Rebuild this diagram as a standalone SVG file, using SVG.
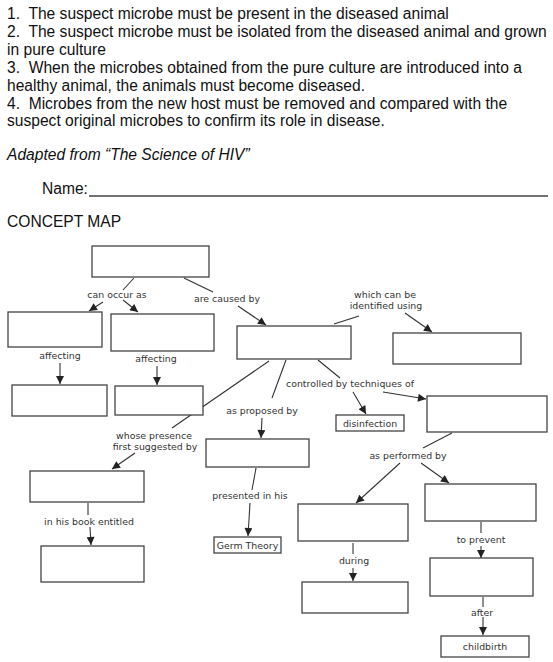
<svg xmlns="http://www.w3.org/2000/svg" width="553" height="662" viewBox="0 0 553 662">
<style>
.t{font-family:"Liberation Sans",Arial,sans-serif;font-size:15.6px;fill:#111;white-space:pre}
.i{font-style:italic}
.l{font-family:"DejaVu Sans",Verdana,sans-serif;font-size:9.4px;fill:#333;text-anchor:middle}
.b{fill:#fff;stroke:#444;stroke-width:1.3}
.c{stroke:#333;stroke-width:1.1;fill:none}
.a{marker-end:url(#ah)}
</style>
<defs>
<marker id="ah" viewBox="0 0 10 10" refX="10" refY="5" markerWidth="10" markerHeight="8" markerUnits="userSpaceOnUse" orient="auto">
<path d="M0,0 L10,5 L0,10 z" fill="#222"/>
</marker>
</defs>
<rect width="553" height="662" fill="#fff"/>
<g id="header">
<text class="t" x="7" y="19">1.  The suspect microbe must be present in the diseased animal</text>
<text class="t" x="7" y="37">2.  The suspect microbe must be isolated from the diseased animal and grown</text>
<text class="t" x="7" y="55">in pure culture</text>
<text class="t" x="7" y="73">3.  When the microbes obtained from the pure culture are introduced into a</text>
<text class="t" x="7" y="91">healthy animal, the animals must become diseased.</text>
<text class="t" x="7" y="108.5">4.  Microbes from the new host must be removed and compared with the</text>
<text class="t" x="7" y="126">suspect original microbes to confirm its role in disease.</text>
<text class="t i" x="7" y="160">Adapted from “The Science of HIV”</text>
<text class="t" x="42" y="194">Name:</text>
<line x1="89" y1="196" x2="548" y2="196" stroke="#444" stroke-width="1.4"/>
<text class="t" x="7" y="227">CONCEPT MAP</text>
</g>
<g id="connectors">
<line class="c" x1="134" y1="278" x2="123" y2="290"/>
<line class="c a" x1="103" y1="302" x2="89" y2="311"/>
<line class="c a" x1="123" y1="300" x2="138" y2="312"/>
<line class="c" x1="184" y1="278" x2="213" y2="292"/>
<line class="c a" x1="238" y1="306" x2="266" y2="325"/>
<line class="c a" x1="60" y1="363" x2="60" y2="384"/>
<line class="c a" x1="157" y1="366" x2="157" y2="385"/>
<line class="c" x1="334" y1="324" x2="359" y2="316"/>
<line class="c a" x1="405" y1="313" x2="432" y2="332"/>
<line class="c" x1="318" y1="360" x2="340" y2="378"/>
<line class="c a" x1="353" y1="392" x2="366" y2="414"/>
<line class="c a" x1="383" y1="392" x2="426" y2="399"/>
<line class="c" x1="286" y1="360" x2="272" y2="398"/>
<line class="c a" x1="262" y1="418" x2="261" y2="438"/>
<line class="c" x1="269" y1="361" x2="172" y2="428"/>
<line class="c a" x1="135" y1="453" x2="112" y2="469"/>
<line class="c" x1="452" y1="433" x2="423" y2="448"/>
<line class="c a" x1="400" y1="463" x2="356" y2="503"/>
<line class="c a" x1="421" y1="463" x2="449" y2="483"/>
<line class="c" x1="256" y1="468" x2="252" y2="490"/>
<line class="c a" x1="250" y1="503" x2="248" y2="536"/>
<line class="c" x1="88" y1="503" x2="88" y2="515"/>
<line class="c a" x1="90" y1="527" x2="91" y2="545"/>
<line class="c" x1="481" y1="522" x2="481" y2="533"/>
<line class="c a" x1="481" y1="546" x2="481" y2="558"/>
<line class="c" x1="353" y1="543" x2="353" y2="554"/>
<line class="c a" x1="353" y1="568" x2="353" y2="581"/>
<line class="c" x1="483" y1="597" x2="483" y2="607"/>
<line class="c a" x1="483" y1="617" x2="483" y2="635"/>
</g>
<g id="labels">
<text class="l" x="117" y="298">can occur as</text>
<text class="l" x="227" y="302">are caused by</text>
<text class="l" x="60" y="359">affecting</text>
<text class="l" x="156" y="362">affecting</text>
<text class="l" x="385" y="298">which can be</text>
<text class="l" x="386" y="309">identified using</text>
<text class="l" x="350" y="387">controlled by techniques of</text>
<text class="l" x="262" y="414">as proposed by</text>
<text class="l" x="408" y="459">as performed by</text>
<text class="l" x="154" y="439">whose presence</text>
<text class="l" x="155" y="450">first suggested by</text>
<text class="l" x="250" y="499">presented in his</text>
<text class="l" x="89" y="525">in his book entitled</text>
<text class="l" x="481" y="543">to prevent</text>
<text class="l" x="354" y="564">during</text>
<text class="l" x="482" y="616">after</text>
</g>
<g id="n1"><rect class="b" x="92" y="246" width="117" height="31"/></g>
<g id="n2"><rect class="b" x="8" y="312" width="94" height="35"/></g>
<g id="n3"><rect class="b" x="111" y="314" width="103" height="37"/></g>
<g id="n4"><rect class="b" x="237" y="326" width="114" height="33"/></g>
<g id="n5"><rect class="b" x="12" y="385" width="95" height="31"/></g>
<g id="n6"><rect class="b" x="115" y="386" width="88" height="29"/></g>
<g id="n7"><rect class="b" x="393" y="333" width="128" height="31"/></g>
<g id="n8"><rect class="b" x="427" y="396" width="120" height="36"/></g>
<g id="n9"><rect class="b" x="336" y="415" width="68" height="16"/><text class="l" x="370" y="426.5">disinfection</text></g>
<g id="n10"><rect class="b" x="206" y="439" width="103" height="28"/></g>
<g id="n11"><rect class="b" x="30" y="471" width="114" height="31"/></g>
<g id="n12"><rect class="b" x="41" y="546" width="103" height="36"/></g>
<g id="n13"><rect class="b" x="214" y="537" width="67" height="16"/><text class="l" x="247.5" y="548.5">Germ Theory</text></g>
<g id="n14"><rect class="b" x="298" y="504" width="110" height="37"/></g>
<g id="n15"><rect class="b" x="425" y="484" width="111" height="37"/></g>
<g id="n16"><rect class="b" x="302" y="582" width="106" height="31"/></g>
<g id="n17"><rect class="b" x="430" y="558" width="103" height="38"/></g>
<g id="n18"><rect class="b" x="441" y="636" width="88" height="21"/><text class="l" x="485" y="650">childbirth</text></g>
</svg>
